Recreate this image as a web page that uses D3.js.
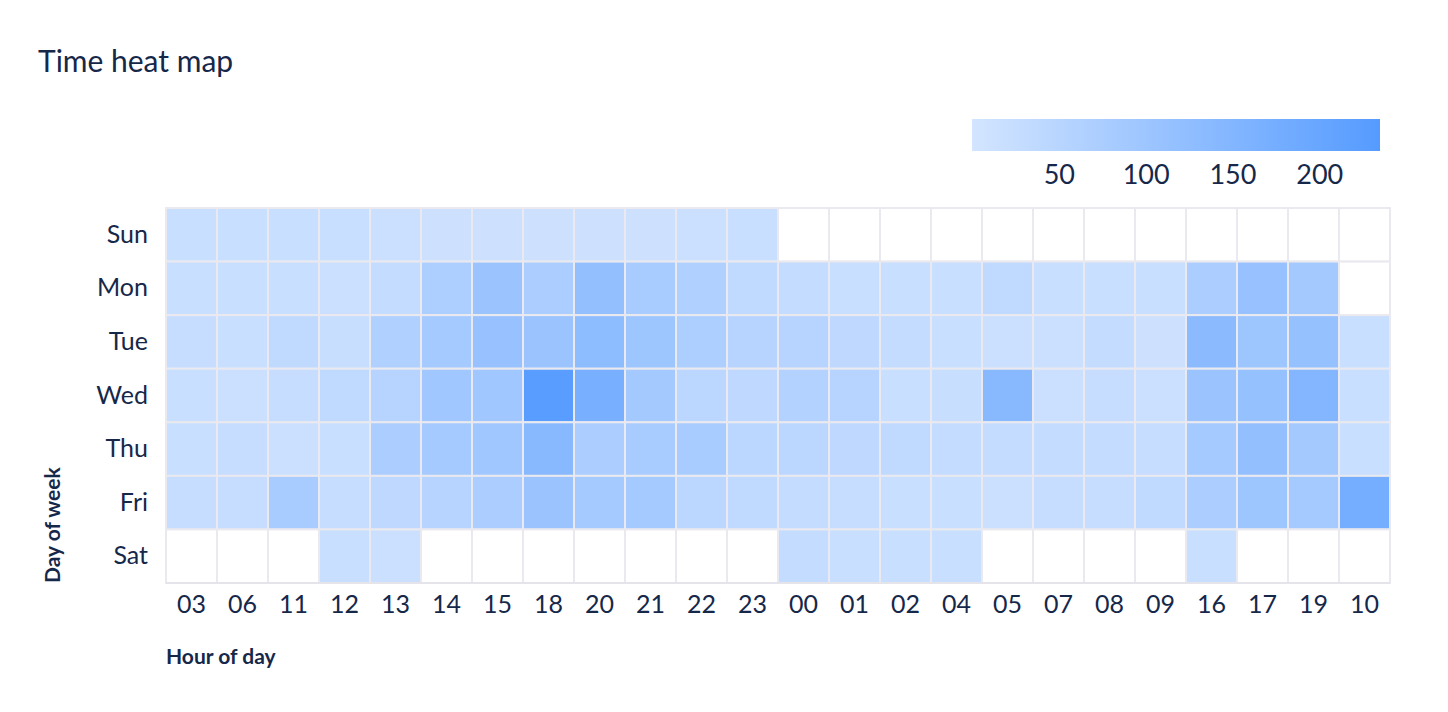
<!DOCTYPE html><html><head><meta charset="utf-8">
<script src="https://cdn.jsdelivr.net/npm/d3@7/dist/d3.min.js"></script>
<style>body{margin:0;background:#fff}text{font-family:Lato,"Noto Sans",sans-serif;fill:#16284a}</style></head><body>
<svg id="c" width="1448" height="712"></svg>
<script>
const hours=["03","06","11","12","13","14","15","18","20","21","22","23","00","01","02","04","05","07","08","09","16","17","19","10"];
const days=["Sun","Mon","Tue","Wed","Thu","Fri","Sat"];
const N=null;
const sun=[20,20,20,20,15,12,12,12,12,12,15,20,N,N,N,N,N,N,N,N,N,N,N,N];
const mon=[20,20,18,15,28,70,105,75,120,80,65,35,30,20,18,18,35,18,18,18,75,110,90,N];
const tue=[25,20,35,22,65,85,110,105,130,100,70,55,55,40,30,20,15,15,30,12,135,100,115,20];
const wed=[20,15,25,35,55,95,95,230,170,90,45,40,60,55,20,22,140,15,25,15,105,115,150,18];
const thu=[20,25,15,20,75,85,95,140,75,80,80,45,45,40,35,30,30,30,30,25,85,120,90,20];
const fri=[25,25,80,25,40,55,75,105,85,85,45,35,30,25,20,20,15,25,25,35,75,100,85,175];
const sat=[N,N,N,20,15,N,N,N,N,N,N,N,30,20,20,20,N,N,N,N,20,N,N,N];
const rows=[sun,mon,tue,wed,thu,fri,sat];
const legendTicks=[50,100,150,200];
const svg=d3.select("#c");
const x=d3.scaleBand().domain(hours).range([166,1390]);
const y=d3.scaleBand().domain(days).range([208,583]);
const color=d3.scaleLinear().domain([0,235]).range(["#d3e5ff","#559bff"]);
svg.append("text").attr("x",38).attr("y",72).attr("font-size",30).text("Time heat map");
const cells=[];rows.forEach((r,i)=>r.forEach((v,j)=>cells.push({d:days[i],h:hours[j],v})));
svg.selectAll("rect.c").data(cells).join("rect").attr("x",d=>x(d.h)).attr("y",d=>y(d.d))
 .attr("width",x.bandwidth()).attr("height",y.bandwidth())
 .attr("fill",d=>d.v==null?"#fff":color(d.v)).attr("stroke","#e9e9ef").attr("stroke-width",2);
svg.append("line").attr("x1",166).attr("x2",1390).attr("y1",583).attr("y2",583).attr("stroke","#e4e4ea").attr("stroke-width",2);
const xa=svg.append("g").attr("transform","translate(0,583)").call(d3.axisBottom(x).tickSize(0).tickPadding(12));
xa.select(".domain").remove();xa.selectAll("text").attr("font-size",25).style("font-family","Lato,'Noto Sans',sans-serif").attr("fill","#16284a");
const ya=svg.append("g").attr("transform","translate(166,0)").call(d3.axisLeft(y).tickSize(0).tickPadding(18));
ya.select(".domain").remove();ya.selectAll("text").attr("font-size",25).style("font-family","Lato,'Noto Sans',sans-serif").attr("fill","#16284a");
svg.append("text").attr("x",166).attr("y",664).attr("font-size",21).attr("font-weight","bold").text("Hour of day");
svg.append("text").attr("transform","translate(60,583) rotate(-90)").attr("font-size",21).attr("font-weight","bold").text("Day of week");
// legend
const defs=svg.append("defs");const g=defs.append("linearGradient").attr("id","lg");
g.append("stop").attr("offset","0%").attr("stop-color",color(0));g.append("stop").attr("offset","100%").attr("stop-color",color(235));
svg.append("rect").attr("x",972).attr("y",119).attr("width",408).attr("height",32).attr("fill","url(#lg)");
const lx=d3.scaleLinear().domain([0,235]).range([972,1380]);
const la=svg.append("g").attr("transform","translate(0,151)").call(d3.axisBottom(lx).tickValues(legendTicks).tickSize(0).tickPadding(14));
la.select(".domain").remove();la.selectAll("text").attr("font-size",27).style("font-family","Lato,'Noto Sans',sans-serif").attr("fill","#16284a");
</script></body></html>
